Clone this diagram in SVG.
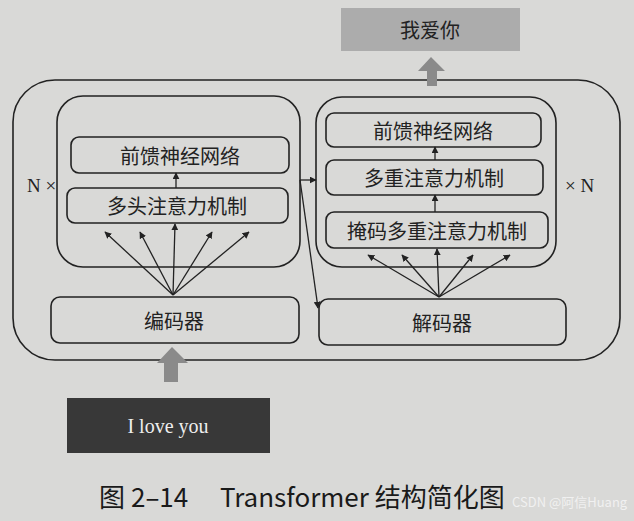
<svg xmlns="http://www.w3.org/2000/svg" width="634" height="521" viewBox="0 0 634 521">
<style>
.box{fill:none;stroke:#222;stroke-width:1.6}
.lbl{font-family:"Noto Sans CJK SC","Noto Sans",sans-serif;font-size:20px;fill:#222;text-anchor:middle;dominant-baseline:central}
.ln{stroke:#222;stroke-width:1.3;fill:none}
.nx{font-family:"Liberation Serif",serif;font-size:19px;fill:#222;dominant-baseline:central}
.cap{font-family:"Noto Sans CJK SC","Noto Sans",sans-serif;font-size:26px;fill:#1a1a1a}
</style>
<defs>
<marker id="ah" viewBox="0 0 10 10" refX="9" refY="5" markerWidth="7" markerHeight="7" orient="auto-start-reverse" markerUnits="userSpaceOnUse">
<path d="M0,0 L10,5 L0,10 z" fill="#222"/>
</marker>
</defs>
<rect width="634" height="521" fill="#d9d9d7"/>

<g id="output">
<rect x="341" y="8" width="179" height="43" fill="#acacac"/>
<text class="lbl" x="430" y="29">我爱你</text>
</g>
<g id="outer">
<rect class="box" x="13" y="80" width="607" height="280" rx="42"/>
<text class="nx" x="27" y="185">N ×</text>
<text class="nx" x="565" y="185">× N</text>
</g>
<g id="encoder-stack">
<rect class="box" x="57" y="96" width="243" height="171" rx="26"/>
</g>
<g id="enc-ffn">
<rect class="box" x="71" y="137" width="218" height="36" rx="8"/>
<text class="lbl" x="180" y="155">前馈神经网络</text>
</g>
<g id="enc-mha">
<rect class="box" x="67" y="188" width="221" height="35" rx="8"/>
<text class="lbl" x="177" y="205">多头注意力机制</text>
</g>
<g id="decoder-stack">
<rect class="box" x="316" y="97" width="240" height="170" rx="26"/>
</g>
<g id="dec-ffn">
<rect class="box" x="326" y="113" width="215" height="34" rx="8"/>
<text class="lbl" x="433" y="130">前馈神经网络</text>
</g>
<g id="dec-mha">
<rect class="box" x="326" y="160" width="217" height="35" rx="8"/>
<text class="lbl" x="434" y="177">多重注意力机制</text>
</g>
<g id="dec-masked">
<rect class="box" x="326" y="212" width="222" height="36" rx="8"/>
<text class="lbl" x="437" y="230">掩码多重注意力机制</text>
</g>
<g id="encoder">
<rect class="box" x="51" y="297" width="248" height="46" rx="9"/>
<text class="lbl" x="174" y="320">编码器</text>
</g>
<g id="decoder">
<rect class="box" x="319" y="299" width="247" height="46" rx="9"/>
<text class="lbl" x="442" y="322">解码器</text>
</g>
<g id="input">
<rect x="67" y="398" width="203" height="55" fill="#383838"/>
<text x="168" y="426" font-family="Liberation Serif,serif" font-size="20" fill="#eee" text-anchor="middle" dominant-baseline="central">I love you</text>
</g>

<g id="connectors">
<path class="ln" marker-end="url(#ah)" d="M176,188 L176,173"/>
<path class="ln" marker-end="url(#ah)" d="M435,160 L435,147"/>
<path class="ln" marker-end="url(#ah)" d="M435,212 L435,195"/>
<path class="ln" marker-end="url(#ah)" d="M300,180 L316,180"/>
<path class="ln" marker-end="url(#ah)" d="M300,180 L318,308"/>
<path class="ln" marker-end="url(#ah)" d="M173,295 L105,232"/>
<path class="ln" marker-end="url(#ah)" d="M173,295 L140,232"/>
<path class="ln" marker-end="url(#ah)" d="M173,295 L175,224"/>
<path class="ln" marker-end="url(#ah)" d="M173,295 L212,232"/>
<path class="ln" marker-end="url(#ah)" d="M173,295 L249,232"/>
<path class="ln" marker-end="url(#ah)" d="M439,297 L368,255"/>
<path class="ln" marker-end="url(#ah)" d="M439,297 L402,255"/>
<path class="ln" marker-end="url(#ah)" d="M439,297 L437,249"/>
<path class="ln" marker-end="url(#ah)" d="M439,297 L473,255"/>
<path class="ln" marker-end="url(#ah)" d="M439,297 L510,255"/>
<path d="M164,382 L164,363 L157,363 L172,347 L188,363 L178,363 L178,382 Z" fill="#8a8a8a"/>
<path d="M427,86 L427,71 L418,71 L431,57 L445,71 L437,71 L437,86 Z" fill="#8a8a8a"/>
</g>

<g id="caption">
<text class="cap" x="99" y="507">图</text>
<text class="cap" x="131" y="507">2–14</text>
<text class="cap" x="220" y="507">Transformer 结构简化图</text>
<text x="512" y="507" font-family="Noto Sans CJK SC,Noto Sans,sans-serif" font-size="13" fill="#f4f4f4" opacity="0.9">CSDN @阿信Huang</text>
</g>
</svg>
